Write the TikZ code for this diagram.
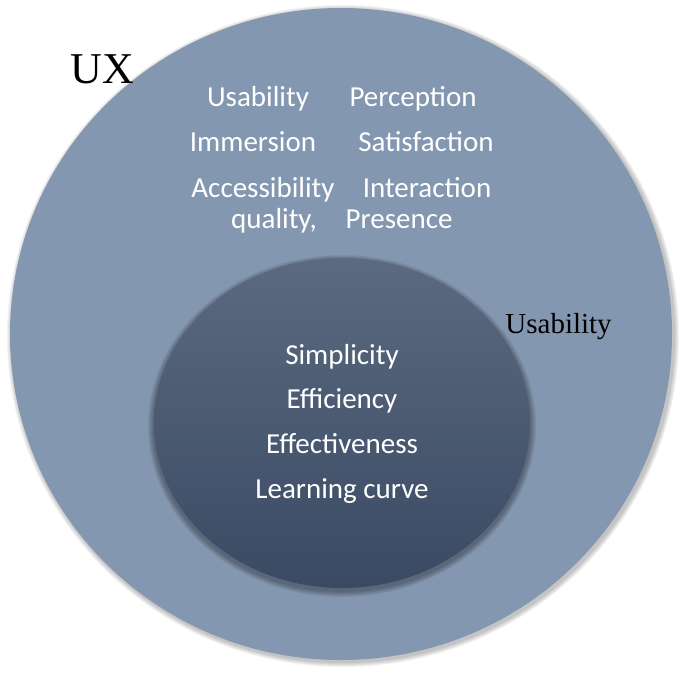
\documentclass[tikz,border=0pt]{standalone}
\usepackage{fontspec}
\setmainfont{Liberation Serif}
\newfontfamily\calib{Carlito}
\usetikzlibrary{shapes.geometric,positioning}
\definecolor{uxblue}{HTML}{8497B0}
\definecolor{coretop}{HTML}{5B6A80}
\definecolor{corebot}{HTML}{3A4A63}
\tikzset{
    uxring/.style={ellipse,fill=uxblue,minimum width=331pt,minimum height=326pt,inner sep=0pt},
    core/.style={ellipse,top color=coretop,bottom color=corebot,minimum width=188pt,minimum height=165pt,inner sep=0pt},
    item/.style={text=white,font=\calib\fontsize{14.5}{17}\selectfont,anchor=base,inner sep=0pt},
    caption/.style={text=black,font=\fontsize{14.5}{17}\selectfont,anchor=base west,inner sep=0pt},
}

\begin{document}
\begin{tikzpicture}[x=0.5pt,y=-0.5pt]
\useasboundingbox (0,0) rectangle (685,685);
\foreach \r in {1,...,5}
  \fill[black,opacity=0.05] (343,336) ellipse ({331+\r} and {326+\r});
\node[uxring] (uxc) at (341,334) {};
\foreach \r in {1,...,6}
  \fill[black,opacity=0.06] (342,426) ellipse ({188+\r} and {165+\r});
\node[core] (usab) at (342,423) {};
% outer ring labels
\node[caption,font=\fontsize{22}{26}\selectfont] (uxlbl) at (70,83) {UX};
\node[caption] (usablbl) at (505,333) {Usability};
% ux items
\node[item] (usability) at (258,106) {Usability};
\node[item] (perception) at (413,106) {Perception};
\node[item] (immersion) at (253,151) {Immersion};
\node[item] (satisfaction) at (426,151) {Satisfaction};
\node[item] (access) at (263,197) {Accessibility};
\node[item] (interaction) at (427,197) {Interaction};
\node[item] (quality) at (274,228) {quality,};
\node[item] (presence) at (399,228) {Presence};
% usability items
\node[item] (simple) at (342,364) {Simplicity};
\node[item] (effic) at (342,408) {Efficiency};
\node[item] (effect) at (342,453) {Effectiveness};
\node[item] (learn) at (342,498) {Learning curve};
\end{tikzpicture}
\end{document}
